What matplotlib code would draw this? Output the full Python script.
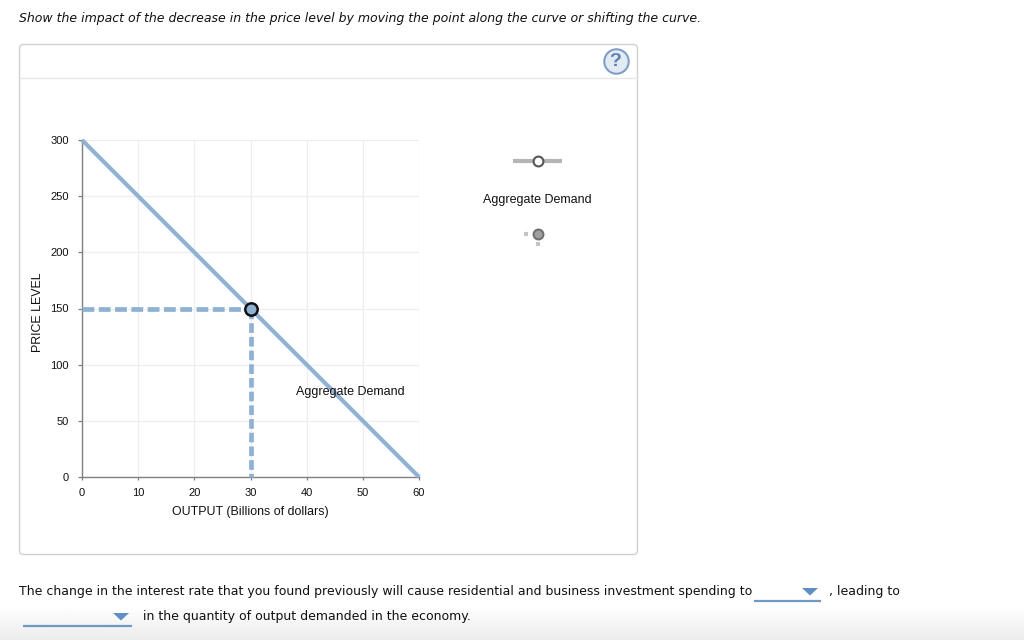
#!/usr/bin/env python3
"""Aggregate demand question screen: AD line with dropped point, tool palette and prompt text."""

import numpy as np
import matplotlib
matplotlib.use('Agg')
import matplotlib.pyplot as plt
from matplotlib.patches import FancyBboxPatch, Polygon

W, H = 1024, 640

# ── Data ──────────────────────────────────────────────────────────────────────
x_ticks = [0, 10, 20, 30, 40, 50, 60]
y_ticks = [0, 50, 100, 150, 200, 250, 300]
ad_x = [0, 60]
ad_y = [300, 0]
point_x = [30]
point_y = [150]
drop_h_x = [0, 30]
drop_h_y = [150, 150]
drop_v_x = [30, 30]
drop_v_y = [150, 0]

BLUE = '#8fb1d4'
ARIAL = 'Liberation Sans'
VERD = 'DejaVu Sans'

fig = plt.figure(figsize=(W / 100, H / 100), dpi=100, facecolor='white')

# ── Page layer in pixel coordinates ───────────────────────────────────────────
page = fig.add_axes([0, 0, 1, 1], zorder=0)
page.set_xlim(0, W)
page.set_ylim(H, 0)
page.axis('off')

# soft grey fade at the bottom of the page
fade = np.linspace(1.0, 0.925, 40).reshape(-1, 1)
page.imshow(fade, extent=(0, W, 640, 605), cmap='gray', vmin=0, vmax=1,
            aspect='auto', zorder=0)
page.set_xlim(0, W)
page.set_ylim(H, 0)

page.text(19, 18.5, 'Show the impact of the decrease in the price level by moving the point along the curve or shifting the curve.',
          family=VERD, style='italic', fontsize=9.02, color='#111111', va='center')

panel = FancyBboxPatch((19.5, 44.5), 618, 510, boxstyle='round,pad=0,rounding_size=4',
                       fc='white', ec='#d0d0d0', lw=1.0, zorder=1)
page.add_patch(panel)
page.plot([20, 637], [77.5, 77.5], color='#e6e6e6', lw=1.0, zorder=2)

# help button
page.scatter([615.5], [61], s=310, fc='#e2eaf4', ec='#7f9fc6', lw=1.5, zorder=3)
page.text(615.5, 62, '?', family=ARIAL, fontsize=14, weight='bold', color='#5f82ad', ha='center',
          va='center', zorder=4)

# tool palette
page.plot([513, 562], [161, 161], color='#b5b5b5', lw=3.0, zorder=3, solid_capstyle='butt')
page.scatter([537.5], [161], s=50, fc='white', ec='#555555', lw=1.5, zorder=4)
page.text(537.5, 199.5, 'Aggregate Demand', family=ARIAL, fontsize=9.0, color='#111111',
          ha='center', va='center', zorder=3)
page.plot([524, 528], [234, 234], color='#c4c4c4', lw=3, zorder=3, solid_capstyle='butt')
page.plot([537.5, 537.5], [242, 246], color='#c4c4c4', lw=3, zorder=3, solid_capstyle='butt')
page.scatter([537.5], [233.5], s=50, fc='#a0a0a0', ec='#707070', lw=1.5, zorder=4)

# prompt and dropdowns
page.text(19, 591.5, 'The change in the interest rate that you found previously will cause residential and business investment spending to',
          family=VERD, fontsize=9.0, color='#111111', va='center')
page.text(829, 591.5, ', leading to', family=VERD, fontsize=9.0, color='#111111', va='center')
page.text(143, 616.5, 'in the quantity of output demanded in the economy.', family=VERD,
          fontsize=9.0, color='#111111', va='center')
for x0, x1, y, tri_x in [(754, 821, 600.5, 810), (23, 132, 625.5, 121)]:
    page.plot([x0, x1], [y, y], color='#7099c6', lw=1.6, zorder=3, solid_capstyle='butt')
    page.add_patch(Polygon([(tri_x - 8, y - 12.5), (tri_x + 8, y - 12.5), (tri_x, y - 5)],
                           closed=True, fc='#5f8fc4', ec='none', zorder=3))

# ── Chart ─────────────────────────────────────────────────────────────────────
ax_l, ax_r, ax_t, ax_b = 82, 419, 140, 477
ax = fig.add_axes([ax_l / W, 1 - ax_b / H, (ax_r - ax_l) / W, (ax_b - ax_t) / H], zorder=2)
ax.patch.set_alpha(0)
ax.set_xlim(0, 60)
ax.set_ylim(0, 300)
ax.set_xticks(x_ticks)
ax.set_yticks(y_ticks)
ax.grid(True, color='#eeeeee', lw=0.9)
ax.set_axisbelow(True)
for side in ('top', 'right'):
    ax.spines[side].set_visible(False)
for side in ('left', 'bottom'):
    ax.spines[side].set_color('#808080')
    ax.spines[side].set_linewidth(1.0)
ax.tick_params(axis='x', length=2.2, width=0.9, color='#808080', labelsize=8, labelcolor='#111111', pad=5.6)
ax.tick_params(axis='y', length=2.6, width=0.9, color='#808080', labelsize=8, labelcolor='#111111', pad=6.8)
for lab in ax.get_xticklabels() + ax.get_yticklabels():
    lab.set_family(ARIAL)

ax.plot(ad_x, ad_y, color=BLUE, lw=3.0, solid_capstyle='butt', clip_on=False, zorder=3)
ax.plot(drop_h_x, drop_h_y, color=BLUE, lw=3.4, dashes=(2.5, 0.95), clip_on=False, zorder=3)
ax.plot(drop_v_x, drop_v_y, color=BLUE, lw=3.4, dashes=(2.05, 0.85), clip_on=False, zorder=3)
ax.scatter(point_x, point_y, s=80, fc=BLUE, ec='#111111', lw=1.8, clip_on=False, zorder=5)

ax.text(47.7, 75.5, 'Aggregate Demand', family=ARIAL, fontsize=9.0, color='#111111',
        ha='center', va='center', zorder=6)
ax.set_xlabel('OUTPUT (Billions of dollars)', family=ARIAL, fontsize=8.9, color='#111111', labelpad=6)
ax.set_ylabel('PRICE LEVEL', family=ARIAL, fontsize=8.9, color='#111111', labelpad=4.8, y=0.49)

fig.savefig('out.png', dpi=100)
